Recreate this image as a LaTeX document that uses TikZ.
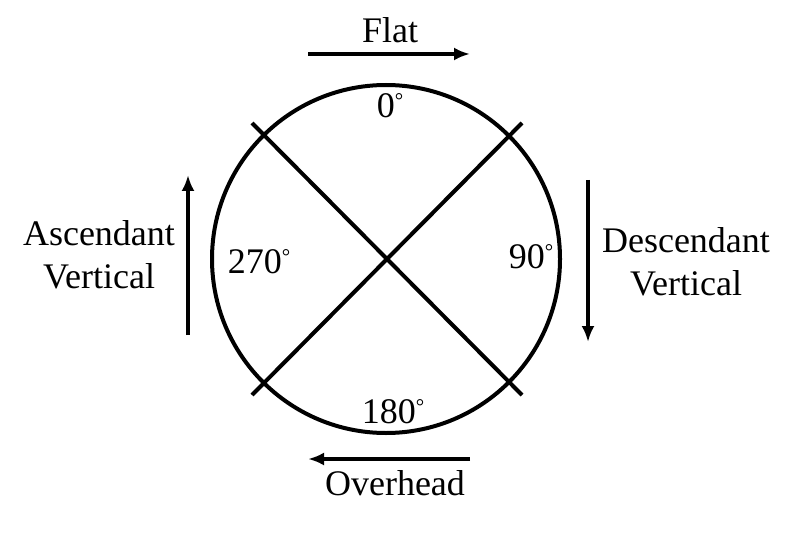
\documentclass[tikz,border=0pt]{standalone}
\usepackage{fontspec}
\setmainfont{Liberation Serif}
\usetikzlibrary{arrows.meta}
\tikzstyle{txt}=[inner sep=0pt, font=\fontsize{36}{40}\selectfont]
\tikzstyle{motion}=[line width=3.5pt, -{Latex[length=16pt,width=13pt]}]
\newcommand{\txt}{\node[txt, anchor=base]}
\newcommand{\dg}{\raisebox{10pt}{\fontsize{21}{21}\selectfont °}}

\begin{document}
\begin{tikzpicture}[x=1pt, y=-1pt, line width=4pt]
\useasboundingbox (0,0) rectangle (799,537);
\coordinate (o) at (386,259);
\coordinate (nw) at (252,123);
\coordinate (ne) at (522,123);
\coordinate (sw) at (252,395);
\coordinate (se) at (522,395);
\draw (o) circle (174);
\draw (nw) -- (se);
\draw (ne) -- (sw);
% degree marks
\txt (d0)   at (390,118) {0\dg};
\txt (d90)  at (531,268) {90\dg};
\txt (d180) at (393,423) {180\dg};
\txt (d270) at (259,273) {270\dg};
% directions
\coordinate (f1) at (308,54);  \coordinate (f2) at (470,54);
\coordinate (a1) at (188,335); \coordinate (a2) at (188,175);
\coordinate (s1) at (588,180); \coordinate (s2) at (588,342);
\coordinate (h1) at (470,459); \coordinate (h2) at (308,459);
\draw[motion] (f1) -- (f2);
\draw[motion] (a1) -- (a2);
\draw[motion] (s1) -- (s2);
\draw[motion] (h1) -- (h2);
\txt (flat) at (390,43) {Flat};
\txt (asc)  at (99,245) {Ascendant};
\txt (ascv) at (99,288) {Vertical};
\txt (des)  at (686,252) {Descendant};
\txt (desv) at (686,295) {Vertical};
\txt (over) at (395,495) {Overhead};
\end{tikzpicture}
\end{document}
